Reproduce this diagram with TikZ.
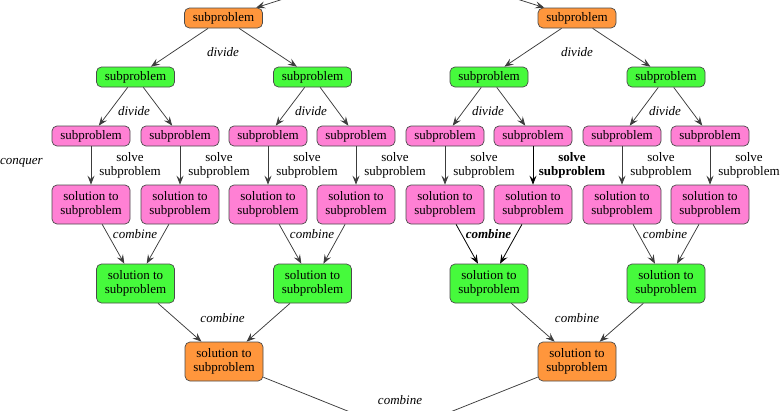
\documentclass[tikz,border=0pt]{standalone}
\usepackage{fontspec}
\setmainfont{LiberationSerif}[Extension=.ttf, UprightFont=*-Regular, BoldFont=*-Bold, ItalicFont=*-Italic, BoldItalicFont=*-BoldItalic]
\usetikzlibrary{arrows.meta}
\definecolor{orng}{RGB}{255,150,60}
\definecolor{grn}{RGB}{70,250,60}
\definecolor{pnk}{RGB}{255,128,212}
\definecolor{edgec}{RGB}{60,60,60}
\tikzset{
  box/.style={draw=edgec!80!gray, line width=0.7pt, rounded corners=5pt, minimum width=78pt, align=center, inner sep=2pt, font=\fontsize{13}{14}\selectfont},
  subbox/.style={box, minimum height=20pt},
  solbox/.style={box, minimum height=39pt},
  conn/.style={draw=edgec, line width=0.75pt, -{Stealth[length=9pt,width=7pt,inset=3.5pt]}},
  hot/.style={conn, draw=black, line width=0.8pt},
  lbl/.style={font=\fontsize{13}{14}\selectfont\itshape, inner sep=0pt},
  slbl/.style={font=\fontsize{13}{14}\selectfont, align=center, inner sep=0pt}
}
\begin{document}
\begin{tikzpicture}[x=1pt,y=-1pt]
\useasboundingbox (0,0) rectangle (781,410);
\clip (0,0) rectangle (781,410);
\coordinate (root) at (400,-38);
\coordinate (final) at (400,432);
% top
\node[subbox, fill=orng] (t1) at (223.5,18) {subproblem};
\node[subbox, fill=orng] (t2) at (577,18) {subproblem};
% row 2
\node[subbox, fill=grn] (g1) at (135.5,77) {subproblem};
\node[subbox, fill=grn] (g2) at (312.5,77) {subproblem};
\node[subbox, fill=grn] (g3) at (489,77) {subproblem};
\node[subbox, fill=grn] (g4) at (666,77) {subproblem};
% row 3 and 4
\foreach \i/\x in {1/91,2/180,3/268,4/356,5/445,6/533,7/622,8/710}{
  \node[subbox, fill=pnk] (p\i) at (\x,136) {subproblem};
  \node[solbox, fill=pnk] (s\i) at (\x,204.5) {solution to\\subproblem};
}
% row 5
\node[solbox, fill=grn] (h1) at (135.5,283.5) {solution to\\subproblem};
\node[solbox, fill=grn] (h2) at (312.5,283.5) {solution to\\subproblem};
\node[solbox, fill=grn] (h3) at (489,283.5) {solution to\\subproblem};
\node[solbox, fill=grn] (h4) at (666,283.5) {solution to\\subproblem};
% row 6
\node[solbox, fill=orng] (o1) at (224,361.5) {solution to\\subproblem};
\node[solbox, fill=orng] (o2) at (577,361.5) {solution to\\subproblem};
% connectors
\draw[conn] (root) -- (t1);
\draw[conn] (root) -- (t2);
\draw[conn] (t1) -- (g1);
\draw[conn] (t1) -- (g2);
\draw[conn] (t2) -- (g3);
\draw[conn] (t2) -- (g4);
\draw[conn] (g1) -- (p1);
\draw[conn] (g1) -- (p2);
\draw[conn] (g2) -- (p3);
\draw[conn] (g2) -- (p4);
\draw[conn] (g3) -- (p5);
\draw[conn] (g3) -- (p6);
\draw[conn] (g4) -- (p7);
\draw[conn] (g4) -- (p8);
\foreach \i in {1,2,3,4,5,7,8}{ \draw[conn] (p\i) -- (s\i); }
\draw[hot] (p6) -- (s6);
\draw[conn] (s1) -- (h1);
\draw[conn] (s2) -- (h1);
\draw[conn] (s3) -- (h2);
\draw[conn] (s4) -- (h2);
\draw[hot] (s5) -- (h3);
\draw[hot] (s6) -- (h3);
\draw[conn] (s7) -- (h4);
\draw[conn] (s8) -- (h4);
\draw[conn] (h1) -- (o1);
\draw[conn] (h2) -- (o1);
\draw[conn] (h3) -- (o2);
\draw[conn] (h4) -- (o2);
\draw[conn] (o1) -- (final);
\draw[conn] (o2) -- (final);
% labels
\node[lbl] (d0a) at (223,52) {divide};
\node[lbl] (d0b) at (577,52) {divide};
\node[lbl] (d1) at (134,111) {divide};
\node[lbl] (d2) at (311,111) {divide};
\node[lbl] (d3) at (488,111) {divide};
\node[lbl] (d4) at (665,111) {divide};
\node[lbl] (conq) at (21.5,163) {conquer};
\foreach \i/\x in {1/91,2/180,3/268,4/356,5/445,7/622,8/710}{
  \node[slbl] (sl\i) at (\x+39,165) {solve\\subproblem};
}
\node[slbl, font=\fontsize{13}{14}\selectfont\bfseries] (sl6) at (533+39,165) {solve\\subproblem};
\node[lbl] (c1) at (135,234) {combine};
\node[lbl] (c2) at (312,234) {combine};
\node[lbl, font=\fontsize{13}{14}\selectfont\bfseries\itshape] (c3) at (488.5,234) {combine};
\node[lbl] (c4) at (665,234) {combine};
\node[lbl] (c5) at (222.5,318) {combine};
\node[lbl] (c6) at (577,318) {combine};
\node[lbl] (c7) at (400,400) {combine};
\end{tikzpicture}
\end{document}
